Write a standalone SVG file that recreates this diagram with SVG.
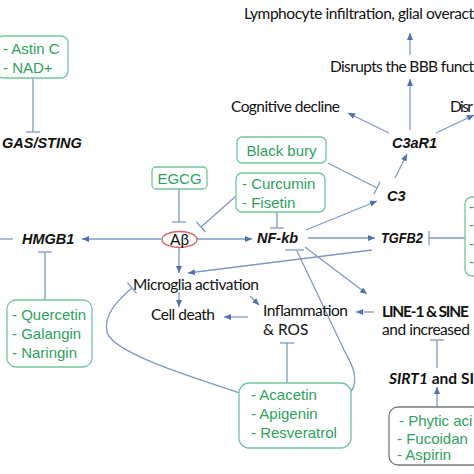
<svg xmlns="http://www.w3.org/2000/svg" width="474" height="474" viewBox="0 0 474 474">
<defs>
<style>
.bg{fill:#ffffff}
.c{fill:none;stroke:#7f98c4;stroke-width:1.3}
.gb{fill:#ffffff;stroke:#72c59e;stroke-width:1.3}
.gray{fill:#ffffff;stroke:#7a7a7a;stroke-width:1.3}
.gt{font-family:"Liberation Sans",Arial,sans-serif;font-size:15px;fill:#2f9f5e}
.bt{font-family:Lato,"Liberation Sans",sans-serif;font-size:15.5px;fill:#111111}
.bb{font-family:Lato,"Liberation Sans",sans-serif;font-size:15.5px;font-weight:bold;fill:#111111}
.bi{font-family:"Liberation Sans",Arial,sans-serif;font-size:14.5px;font-weight:bold;font-style:italic;fill:#111111}
</style>
<marker id="ar" markerUnits="userSpaceOnUse" markerWidth="8" markerHeight="8" refX="7" refY="4" orient="auto">
<path d="M0,1 L7,4 L0,7 z" fill="#4f6fae"/>
</marker>
<marker id="tee" markerUnits="userSpaceOnUse" markerWidth="4" markerHeight="16" refX="2" refY="8" orient="auto">
<path d="M2,1 L2,15" stroke="#7f98c4" stroke-width="1.3"/>
</marker>
</defs>
<rect class="bg" x="0" y="0" width="474" height="474"/>

<g id="connectors">
<path class="c" d="M410,55 L410,33" marker-end="url(#ar)"/>
<path class="c" d="M410,130 L410,79" marker-end="url(#ar)"/>
<path class="c" d="M389,133 L348,113" marker-end="url(#ar)"/>
<path class="c" d="M436,133 L474,115" marker-end="url(#ar)"/>
<path class="c" d="M395,178 L407,154" marker-end="url(#ar)"/>
<path class="c" d="M328,163 L377,188" marker-end="url(#tee)"/>
<path class="c" d="M306,230 L377,201" marker-end="url(#ar)"/>
<path class="c" d="M277,212 L277,228" marker-end="url(#tee)"/>
<path class="c" d="M236,196 L201,227" marker-end="url(#tee)"/>
<path class="c" d="M179,189 L179,222" marker-end="url(#tee)"/>
<path class="c" d="M197,239 L252,239" marker-end="url(#ar)"/>
<path class="c" d="M161,239 L82,239" marker-end="url(#ar)"/>
<path class="c" d="M0,239 L13,239"/>
<path class="c" d="M45,300 L45,252" marker-end="url(#tee)"/>
<path class="c" d="M33,78 L33,132" marker-end="url(#tee)"/>
<path class="c" d="M308,238 L375,238" marker-end="url(#ar)"/>
<path class="c" d="M465,238 L429,238" marker-end="url(#tee)"/>
<path class="c" d="M372,250 L188,273" marker-end="url(#ar)"/>
<path class="c" d="M179,248 L179,273" marker-end="url(#ar)"/>
<path class="c" d="M179,292 L179,307" marker-end="url(#ar)"/>
<path class="c" d="M250,296 L259,305" marker-end="url(#ar)"/>
<path class="c" d="M248,317 L224,317" marker-end="url(#ar)"/>
<path class="c" d="M305,247 L367,294" marker-end="url(#ar)"/>
<path class="c" d="M374,312 L356,312" marker-end="url(#ar)"/>
<path class="c" d="M287,383 L287,343" marker-end="url(#tee)"/>
<path class="c" d="M324,396 C340,399 352,395 354,385 C357,372 350,362 345,352 L297,251"/>
<path class="c" d="M285,250 L304,250"/>
<path class="c" d="M240,393 C185,375 112,352 107,332 C103,315 118,300 132,288" marker-end="url(#tee)"/>
<path class="c" d="M437,368 L437,340" marker-end="url(#tee)"/>
<path class="c" d="M437,407 L437,387" marker-end="url(#ar)"/>
</g>

<g id="lymphocyte"><text class="bt" x="244" y="19" textLength="230">Lymphocyte infiltration, glial overact</text></g>
<g id="bbb"><text class="bt" x="330" y="72" textLength="144">Disrupts the BBB funct</text></g>
<g id="cognitive"><text class="bt" x="231" y="112" textLength="109">Cognitive decline</text></g>
<g id="disr"><text class="bt" x="450" y="112" textLength="23">Disr</text></g>
<g id="c3ar1"><text class="bi" x="392" y="148">C3aR1</text></g>
<g id="c3"><text class="bi" x="387" y="201">C3</text></g>
<g id="nfkb"><text class="bi" x="257" y="243">NF-kb</text></g>
<g id="tgfb2"><text class="bi" x="381" y="243" textLength="42" lengthAdjust="spacingAndGlyphs">TGFB2</text></g>
<g id="hmgb1"><text class="bi" x="22" y="244">HMGB1</text></g>
<g id="cgas"><text class="bi" x="2" y="148">GAS/STING</text></g>

<g id="abeta">
<ellipse cx="179.5" cy="239.5" rx="17.5" ry="8" fill="#ffffff" stroke="#d9605c" stroke-width="1.3"/>
<text class="bt" x="179.5" y="244.5" text-anchor="middle">Aβ</text>
</g>

<g id="astin">
<rect class="gb" x="-4" y="36" width="72" height="42" rx="7"/>
<text class="gt" x="3" y="54">- Astin C</text>
<text class="gt" x="3" y="73">- NAD+</text>
</g>
<g id="blackbury">
<rect class="gb" x="237" y="137" width="89" height="26" rx="5"/>
<text class="gt" x="281.5" y="156" text-anchor="middle">Black bury</text>
</g>
<g id="curcumin">
<rect class="gb" x="236" y="173" width="89" height="39" rx="6"/>
<text class="gt" x="242" y="189">- Curcumin</text>
<text class="gt" x="242" y="208">- Fisetin</text>
</g>
<g id="egcg">
<rect class="gb" x="152" y="167" width="55" height="22" rx="4"/>
<text class="gt" x="179.5" y="184" text-anchor="middle">EGCG</text>
</g>
<g id="rightbox">
<rect class="gb" x="465" y="197" width="20" height="79" rx="7"/>
<text class="gt" x="469" y="212">-</text>
<text class="gt" x="469" y="230">-</text>
<text class="gt" x="469" y="249">-</text>
<text class="gt" x="469" y="267">-</text>
</g>
<g id="quercetin">
<rect class="gb" x="7" y="300" width="85" height="67" rx="9"/>
<text class="gt" x="12" y="320">- Quercetin</text>
<text class="gt" x="12" y="339">- Galangin</text>
<text class="gt" x="12" y="358">- Naringin</text>
</g>
<g id="microglia"><text class="bt" x="133" y="290" textLength="126">Microglia activation</text></g>
<g id="celldeath"><text class="bt" x="151" y="320" textLength="64">Cell death</text></g>
<g id="inflammation">
<text class="bt" x="263" y="316" textLength="85">Inflammation</text>
<text class="bt" x="263" y="335">&amp; ROS</text>
</g>
<g id="line1">
<text class="bb" x="382" y="317" textLength="87">LINE-1 &amp; SINE</text>
<text class="bt" x="382" y="335" textLength="88">and increased</text>
</g>
<g id="sirt1"><text class="bb" x="389" y="384"><tspan font-style="italic">SIRT1</tspan> and SI</text></g>
<g id="acacetin">
<rect class="gb" x="239" y="383" width="112" height="65" rx="10"/>
<text class="gt" x="251" y="400">- Acacetin</text>
<text class="gt" x="251" y="419">- Apigenin</text>
<text class="gt" x="251" y="438">- Resveratrol</text>
</g>
<g id="phytic">
<rect class="gray" x="389" y="407" width="100" height="58" rx="9"/>
<text class="gt" x="399" y="426" font-size="14">- Phytic aci</text>
<text class="gt" x="397" y="444" font-size="14">- Fucoidan</text>
<text class="gt" x="397" y="460" font-size="14">- Aspirin</text>
</g>
</svg>
